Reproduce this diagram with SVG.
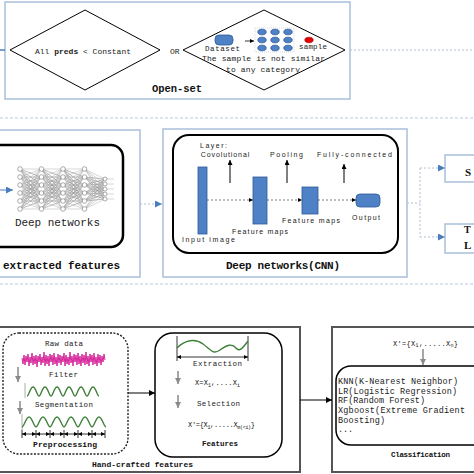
<svg xmlns="http://www.w3.org/2000/svg" width="474" height="474" viewBox="0 0 474 474">
<style>
.m{font-family:"Liberation Mono","DejaVu Sans Mono",monospace;fill:#222}
.b{font-family:"Liberation Mono","DejaVu Sans Mono",monospace;font-weight:bold;fill:#111}
.s{font-family:"Liberation Sans",Arial,sans-serif;fill:#222}
.sr{font-family:"Liberation Serif","Times New Roman",serif;font-weight:bold;fill:#111}
.lb{fill:#fff;stroke:#a9bfda;stroke-width:1.5}
.sep{stroke:#b8c9de;stroke-width:1;stroke-dasharray:3 2;fill:none}
.dl{stroke:#b4c0cf;stroke-width:1;stroke-dasharray:2 2;fill:none}
.blue{fill:#4f81c7;stroke:#2e5b94;stroke-width:0.8}
.k{stroke:#000;fill:none}
.g{stroke:#8a8a8a;stroke-width:1.5;fill:none}
.node{fill:#fff;stroke:#777;stroke-width:0.6}
.grn{fill:none;stroke:#3f7f3a;stroke-width:1.4}
</style>
<defs>
<marker id="ab" viewBox="0 0 10 10" refX="10" refY="5" markerWidth="6" markerHeight="6" orient="auto-start-reverse"><path d="M0 0L10 5L0 10z" fill="#000"/></marker>
<marker id="as" viewBox="0 0 10 10" refX="10" refY="5" markerWidth="5" markerHeight="5" orient="auto-start-reverse"><path d="M0 0L10 5L0 10z" fill="#000"/></marker>
<marker id="au" viewBox="0 0 10 10" refX="10" refY="5" markerWidth="7" markerHeight="7" orient="auto-start-reverse"><path d="M0 0L10 5L0 10z" fill="#4a7ebb"/></marker>
<marker id="ag" viewBox="0 0 10 10" refX="10" refY="5" markerWidth="4" markerHeight="4" orient="auto-start-reverse"><path d="M0 0L10 5L0 10z" fill="#8a8a8a"/></marker>
<path id="k6" d="M21 0L0 0L21 8L0 0L21 16L0 0L21 24L0 0L21 32L0 0L21 40M21 0L0 8L21 8L0 8L21 16L0 8L21 24L0 8L21 32L0 8L21 40M21 0L0 16L21 8L0 16L21 16L0 16L21 24L0 16L21 32L0 16L21 40M21 0L0 24L21 8L0 24L21 16L0 24L21 24L0 24L21 32L0 24L21 40M21 0L0 32L21 8L0 32L21 16L0 32L21 24L0 32L21 32L0 32L21 40M21 0L0 40L21 8L0 40L21 16L0 40L21 24L0 40L21 32L0 40L21 40" fill="none" stroke="#9a9a9a" stroke-width="0.4" stroke-linejoin="round"/>
</defs>
<rect width="474" height="474" fill="#fff"/>

<!-- separators -->
<line class="sep" x1="0" y1="118" x2="474" y2="118"/>
<line class="sep" x1="0" y1="284" x2="474" y2="284"/>

<!-- Open-set -->
<g id="open-set">
<rect class="lb" x="5" y="2" width="345" height="97"/>
<text class="b" x="152" y="91.5" font-size="10.5" textLength="50">Open-set</text>
</g>
<g id="diamond-preds">
<polygon class="k" points="10,50 85,10 160,50 85,90"/>
<text class="m" x="35" y="54" font-size="8" textLength="96">All <tspan font-weight="bold">preds</tspan> &lt; Constant</text>
</g>
<text class="m" x="170" y="54" font-size="8">OR</text>
<g id="diamond-sample">
<polygon class="k" points="183,50 264,10 345,50 264,90"/>
<rect class="blue" x="215" y="35" width="18" height="10" rx="4"/>
<text class="m" x="205" y="51" font-size="7.5" textLength="35">Dataset</text>
<rect x="255" y="28" width="39" height="24" fill="none" stroke="#b9c7d8" stroke-width="0.6" stroke-dasharray="1 1"/>
<g class="blue">
<ellipse cx="262" cy="32" rx="4.2" ry="2.8"/><ellipse cx="275" cy="32" rx="4.2" ry="2.8"/><ellipse cx="288" cy="32" rx="4.2" ry="2.8"/>
<ellipse cx="262" cy="40" rx="4.2" ry="2.8"/><ellipse cx="275" cy="40" rx="4.2" ry="2.8"/><ellipse cx="288" cy="40" rx="4.2" ry="2.8"/>
<ellipse cx="262" cy="48" rx="4.2" ry="2.8"/><ellipse cx="275" cy="48" rx="4.2" ry="2.8"/><ellipse cx="288" cy="48" rx="4.2" ry="2.8"/>
</g>
<ellipse cx="309" cy="40" rx="4.2" ry="2.8" fill="#e00000" stroke="#a00000" stroke-width="0.6"/>
<text class="m" x="299" y="48.5" font-size="7.5" textLength="28">sample</text>
<text class="m" x="202" y="60.5" font-size="8" textLength="123">The sample is not similar</text>
<text class="m" x="226" y="71.5" font-size="8" textLength="74">to any category</text>
</g>

<!-- Deep networks (extracted features) -->
<g id="extracted-features">
<rect class="lb" x="-10" y="130" width="150" height="147"/>
<rect x="-20" y="145" width="143" height="102" rx="12" fill="#fff" stroke="#000" stroke-width="2.5"/>
<use href="#k6" x="20" y="169"/>
<use href="#k6" x="41.5" y="169"/>
<use href="#k6" x="63" y="169"/>
<path d="M84.5 169L105 179L84.5 177L105 179L84.5 185L105 179L84.5 193L105 179L84.5 201L105 179L84.5 209M84.5 169L105 184L84.5 177L105 184L84.5 185L105 184L84.5 193L105 184L84.5 201L105 184L84.5 209M84.5 169L105 189L84.5 177L105 189L84.5 185L105 189L84.5 193L105 189L84.5 201L105 189L84.5 209M84.5 169L105 194L84.5 177L105 194L84.5 185L105 194L84.5 193L105 194L84.5 201L105 194L84.5 209M84.5 169L105 199L84.5 177L105 199L84.5 185L105 199L84.5 193L105 199L84.5 201L105 199L84.5 209M105 179h9M105 184h9M105 189h9M105 194h9M105 199h9" fill="none" stroke="#9a9a9a" stroke-width="0.4" stroke-linejoin="round"/>
<g class="node">
<circle cx="20" cy="169" r="2.3"/><circle cx="20" cy="177" r="2.3"/><circle cx="20" cy="185" r="2.3"/><circle cx="20" cy="193" r="2.3"/><circle cx="20" cy="201" r="2.3"/><circle cx="20" cy="209" r="2.3"/>
<circle cx="41.5" cy="169" r="2.3"/><circle cx="41.5" cy="177" r="2.3"/><circle cx="41.5" cy="185" r="2.3"/><circle cx="41.5" cy="193" r="2.3"/><circle cx="41.5" cy="201" r="2.3"/><circle cx="41.5" cy="209" r="2.3"/>
<circle cx="63" cy="169" r="2.3"/><circle cx="63" cy="177" r="2.3"/><circle cx="63" cy="185" r="2.3"/><circle cx="63" cy="193" r="2.3"/><circle cx="63" cy="201" r="2.3"/><circle cx="63" cy="209" r="2.3"/>
<circle cx="84.5" cy="169" r="2.3"/><circle cx="84.5" cy="177" r="2.3"/><circle cx="84.5" cy="185" r="2.3"/><circle cx="84.5" cy="193" r="2.3"/><circle cx="84.5" cy="201" r="2.3"/><circle cx="84.5" cy="209" r="2.3"/>
<circle cx="105" cy="179" r="2"/><circle cx="105" cy="184" r="2"/><circle cx="105" cy="189" r="2"/><circle cx="105" cy="194" r="2"/><circle cx="105" cy="199" r="2"/>
</g>
<text class="m" x="15" y="226" font-size="11" textLength="85">Deep networks</text>
<text class="b" x="3" y="269" font-size="11" textLength="117">extracted features</text>
</g>

<!-- CNN -->
<g id="cnn">
<rect class="lb" x="163" y="129" width="244" height="148"/>
<rect x="173" y="135" width="225" height="118" rx="16" fill="#fff" stroke="#000" stroke-width="2"/>
<text class="s" x="200" y="147.5" font-size="7" textLength="27">Layer:</text>
<text class="s" x="200.7" y="156.5" font-size="7" textLength="48.6">Covolutional</text>
<text class="s" x="270" y="156.5" font-size="7" textLength="33">Pooling</text>
<text class="s" x="317" y="156.5" font-size="7" textLength="75">Fully-connected</text>
<rect class="blue" x="198" y="167" width="9" height="67"/>
<rect class="blue" x="253" y="177" width="14" height="47"/>
<rect class="blue" x="302" y="187" width="16" height="27"/>
<rect class="blue" x="356" y="194" width="24" height="13" rx="4"/>
<text class="s" x="182" y="241.5" font-size="7" textLength="53">Input image</text>
<text class="s" x="232" y="233.5" font-size="7" textLength="56">Feature maps</text>
<text class="s" x="282" y="222.5" font-size="7" textLength="58">Feature maps</text>
<text class="s" x="352" y="219.5" font-size="7" textLength="28">Output</text>
<text class="b" x="226" y="269" font-size="11" textLength="114">Deep networks(CNN)</text>
</g>

<!-- right boxes -->
<g id="right-top">
<rect class="lb" x="445" y="155" width="40" height="27"/>
<text class="sr" x="465" y="176" font-size="11">S</text>
</g>
<g id="right-bottom">
<rect class="lb" x="445" y="224" width="40" height="29"/>
<text class="sr" x="464" y="233" font-size="10">T</text>
<text class="sr" x="464" y="249" font-size="11">L</text>
</g>

<!-- Hand-crafted features -->
<g id="hand-crafted">
<rect x="-2" y="327" width="302" height="145" fill="#fff" stroke="#555" stroke-width="2"/>
<text class="b" x="92" y="467" font-size="8" textLength="101">Hand-crafted features</text>
</g>
<g id="preprocessing">
<rect x="3" y="333" width="125" height="121" rx="16" fill="none" stroke="#222" stroke-width="1.4" stroke-dasharray="2 1.5"/>
<text class="m" x="45" y="345.5" font-size="7.5" textLength="38">Raw data</text>
<polyline fill="none" stroke="#d6249a" stroke-width="1" points="22,358 23,364 24,355 25,365 26,356 27,362 28,354 29,366 30,357 31,363 32,353 33,365 34,356 35,364 36,355 37,367 38,356 39,362 40,354 41,365 42,357 43,363 44,352 45,366 46,355 47,364 48,356 49,366 50,354 51,362 52,355 53,365 54,353 55,364 56,357 57,366 58,354 59,363 60,355 61,365 62,356 63,362 64,353 65,366 66,355 67,364 68,357 69,365 70,352 71,363 72,356 73,366 74,354 75,362 76,355 77,365 78,353 79,364 80,356 81,366 82,354 83,363 84,355 85,365 86,352 87,364 88,356 89,366 90,354 91,362 92,355 93,365 94,353 95,364 96,357 97,366 98,354 99,363 100,355 101,365 102,356 103,362 104,354 105,360"/>
<text class="m" x="49" y="376.5" font-size="7.5" textLength="29">Filter</text>
<line x1="25" y1="383" x2="25" y2="398" stroke="#999" stroke-width="0.8"/>
<path class="grn" d="M27 396c2 0 3-9 6-9s4 9 6 9s3-9 6-9s4 9 6 9s3-9 6-9s4 9 6 9s3-9 6-9s4 9 6 9s3-9 6-9s4 9 6 9s3-9 6-9s4 9 6 9"/>
<text class="m" x="35" y="407" font-size="7.5" textLength="58">Segmentation</text>
<line x1="22" y1="414" x2="22" y2="430" stroke="#999" stroke-width="0.8"/>
<path class="grn" d="M22 427c2 0 4-10 7-10s5 10 7 10s4-10 7-10s5 10 7 10s4-10 7-10s5 10 7 10s4-10 7-10s5 10 7 10s4-10 7-10s5 10 7 10s4-10 7-10s5 10 7 10"/>
<g stroke="#000" stroke-width="0.8">
<line x1="22" y1="430" x2="22" y2="438"/><line x1="36" y1="430" x2="36" y2="438"/><line x1="50" y1="430" x2="50" y2="438"/><line x1="64" y1="430" x2="64" y2="438"/><line x1="78" y1="430" x2="78" y2="438"/><line x1="92" y1="430" x2="92" y2="438"/><line x1="105" y1="430" x2="105" y2="438"/>
<line x1="22" y1="434" x2="36" y2="434" marker-start="url(#as)" marker-end="url(#as)"/>
<line x1="36" y1="434" x2="50" y2="434" marker-start="url(#as)" marker-end="url(#as)"/>
<line x1="50" y1="434" x2="64" y2="434" marker-start="url(#as)" marker-end="url(#as)"/>
<line x1="64" y1="434" x2="78" y2="434" marker-start="url(#as)" marker-end="url(#as)"/>
<line x1="78" y1="434" x2="92" y2="434" marker-start="url(#as)" marker-end="url(#as)"/>
<line x1="92" y1="434" x2="105" y2="434" marker-start="url(#as)" marker-end="url(#as)"/>
</g>
<text class="b" x="33" y="447" font-size="8" textLength="64">Preprocessing</text>
</g>
<g id="features">
<rect x="155" y="333" width="127" height="124" rx="18" fill="none" stroke="#000" stroke-width="1.5"/>
<line x1="177" y1="336" x2="177" y2="361" stroke="#000" stroke-width="0.8"/>
<line x1="248" y1="336" x2="248" y2="361" stroke="#000" stroke-width="0.8"/>
<path class="grn" d="M177 348C185 340 195 338 203 344S213 355 220 350S232 343 236 348S244 346 248 341"/>
<line x1="177" y1="357" x2="248" y2="357" stroke="#000" stroke-width="0.8" marker-start="url(#as)" marker-end="url(#as)"/>
<text class="m" x="193" y="366" font-size="7.5" textLength="49">Extraction</text>
<text class="m" x="195" y="385" font-size="7" textLength="45">X=X<tspan font-size="5" dy="1.5">1</tspan><tspan dy="-1.5">,....X</tspan><tspan font-size="5" dy="1.5">i</tspan></text>
<text class="m" x="197" y="406" font-size="7.5" textLength="43">Selection</text>
<text class="m" x="188" y="427" font-size="7" textLength="67">X'={X<tspan font-size="5" dy="1.5">1</tspan><tspan dy="-1.5">,.....X</tspan><tspan font-size="5" dy="1.5">m(&lt;i)</tspan><tspan dy="-1.5">}</tspan></text>
<text class="b" x="202" y="446" font-size="7.5" textLength="36">Features</text>
</g>
<g id="classification">
<rect x="332" y="327" width="150" height="145" fill="#fff" stroke="#555" stroke-width="2"/>
<text class="m" x="393" y="345.5" font-size="7" textLength="65">X'={X<tspan font-size="5" dy="1.5">1</tspan><tspan dy="-1.5">,.....X</tspan><tspan font-size="5" dy="1.5">n</tspan><tspan dy="-1.5">}</tspan></text>
<rect x="336" y="366" width="160" height="79" rx="15" fill="none" stroke="#000" stroke-width="1.5"/>
<text class="m" x="338" y="384" font-size="8.5" textLength="120">KNN(K-Nearest Neighbor)</text>
<text class="m" x="338" y="393.7" font-size="8.5" textLength="119">LR(Logistic Regression)</text>
<text class="m" x="338" y="403" font-size="8.5" textLength="87">RF(Random Forest)</text>
<text class="m" x="338" y="413" font-size="8.5" textLength="127">Xgboost(Extreme Gradient</text>
<text class="m" x="338" y="422.5" font-size="8.5" textLength="47">Boosting)</text>
<text class="m" x="338" y="432" font-size="8.5" textLength="15">...</text>
<text class="b" x="391" y="457" font-size="7.5" textLength="59">Classification</text>
</g>

<!-- connectors -->
<g id="connectors">
<line x1="0" y1="50" x2="5" y2="50" stroke="#4a7ebb" stroke-width="1.5"/>
<line class="dl" x1="350" y1="50" x2="474" y2="50"/>
<line x1="245" y1="41" x2="254" y2="41" stroke="#000" stroke-width="0.8" marker-end="url(#as)"/>
<line x1="0" y1="190" x2="13" y2="190" stroke="#4a7ebb" stroke-width="1" marker-end="url(#au)"/>
<line class="dl" x1="140" y1="204" x2="162" y2="204" marker-end="url(#au)"/>
<path class="dl" d="M407 203H420M420 168V237"/>
<line class="dl" x1="420" y1="168" x2="445" y2="168" marker-end="url(#au)"/>
<line class="dl" x1="420" y1="237" x2="445" y2="237" marker-end="url(#au)"/>
<g stroke="#555" stroke-width="0.8" stroke-dasharray="2 2" fill="none">
<line x1="207" y1="200" x2="253" y2="200" marker-end="url(#as)"/>
<line x1="267" y1="200" x2="302" y2="200" marker-end="url(#as)"/>
<line x1="318" y1="200" x2="356" y2="200" marker-end="url(#as)"/>
</g>
<g stroke="#000" stroke-width="1">
<line x1="230" y1="183" x2="230" y2="160" marker-end="url(#as)"/>
<line x1="287" y1="183" x2="287" y2="160" marker-end="url(#as)"/>
<line x1="344" y1="183" x2="344" y2="164" marker-end="url(#as)"/>
</g>
<line x1="128" y1="393" x2="155" y2="393" stroke="#000" stroke-width="1" marker-end="url(#ab)"/>
<line x1="300" y1="400" x2="332" y2="400" stroke="#000" stroke-width="1" marker-end="url(#ab)"/>
<line class="g" x1="18" y1="367" x2="18" y2="382" marker-end="url(#ag)"/>
<line class="g" x1="20" y1="401" x2="20" y2="414" marker-end="url(#ag)"/>
<line class="g" x1="178" y1="371" x2="178" y2="384" marker-end="url(#ag)"/>
<line class="g" x1="178" y1="395" x2="178" y2="408" marker-end="url(#ag)"/>
<line class="g" x1="423" y1="349" x2="423" y2="365" marker-end="url(#ag)"/>
</g>
</svg>
